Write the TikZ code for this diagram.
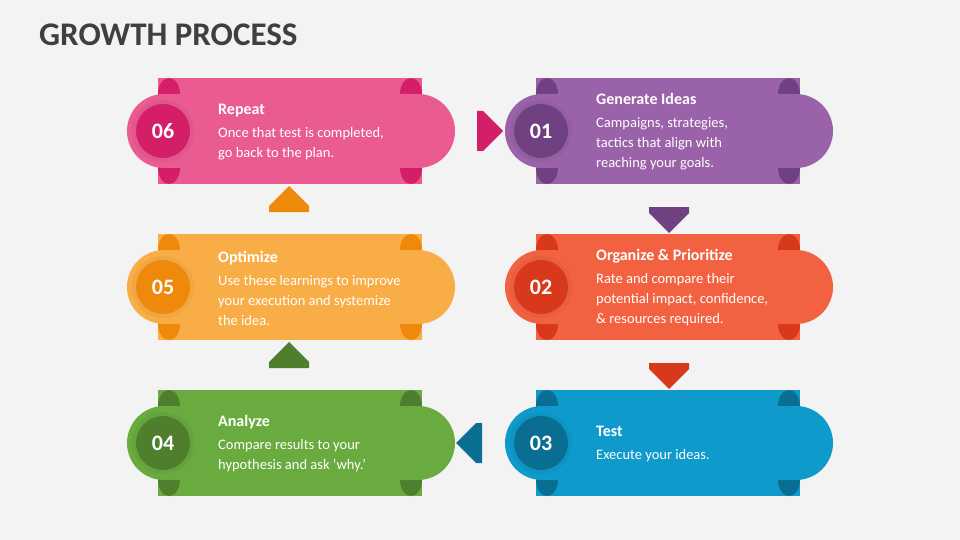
\documentclass[tikz,border=0pt]{standalone}
\usepackage{fontspec}
\setmainfont{Carlito}
\usetikzlibrary{shapes.arrows}
\definecolor{bg}{HTML}{F3F3F3}
\definecolor{pinkL}{HTML}{E95B91}\definecolor{pinkD}{HTML}{D41E67}
\definecolor{purL}{HTML}{9962A9}\definecolor{purD}{HTML}{6F4181}
\definecolor{redL}{HTML}{F26241}\definecolor{redD}{HTML}{D8391B}
\definecolor{bluL}{HTML}{0E9ACB}\definecolor{bluD}{HTML}{0A6E93}
\definecolor{grnL}{HTML}{6AAB3F}\definecolor{grnD}{HTML}{4F7F2D}
\definecolor{orgL}{HTML}{F9AD46}\definecolor{orgD}{HTML}{EE890B}
\definecolor{ttl}{HTML}{3F3F3F}
\tikzset{
 cardtext/.style={anchor=west,align=left,text=white,inner sep=0pt,font=\fontsize{14.5}{20}\selectfont},
 numtext/.style={text=white,font=\bfseries\fontsize{22}{24}\selectfont},
 blockarrow/.style={single arrow,draw=none,minimum height=26pt,minimum width=40pt,single arrow head extend=0pt,single arrow tip angle=90,inner sep=0pt},
}
\newcommand\gcard[7]{% x(left of pill) y(center) light dark num name text
 \begin{scope}[shift={(#1,#2)}]
  \fill[#3] (31,-53) rectangle (295,53);
  \begin{scope}
   \clip (31,-53) rectangle (295,53);
   \foreach \cx in {42,284}{\fill[#4] (\cx,-37) ellipse [x radius=11,y radius=16];
                             \fill[#4] (\cx,37) ellipse [x radius=11,y radius=16];}
  \end{scope}
  \fill[#3,rounded corners=37pt] (0,-37) rectangle (328,37);
  \fill[#3!85!black,opacity=0.25] (36,0) circle (31);
  \fill[#4] (36,0) circle (27);
  \node[numtext] (n#5) at (36,0) {#5};
  \node[cardtext] (t#5) at (91,1) {{\bfseries\fontsize{16}{20}\selectfont #6}\\[3pt]#7};
 \end{scope}}
\begin{document}
\begin{tikzpicture}[x=1pt,y=-1pt]
\fill[bg] (0,0) rectangle (960,540);
\useasboundingbox (0,0) rectangle (960,540);
\node[anchor=west,text=ttl,font=\bfseries\fontsize{33}{36}\selectfont,inner sep=0pt] (title) at (39,35) {GROWTH PROCESS};
\gcard{127}{131}{pinkL}{pinkD}{06}{Repeat}{Once that test is completed,\\go back to the plan.}
\gcard{505}{131}{purL}{purD}{01}{Generate Ideas}{Campaigns, strategies,\\tactics that align with\\reaching your goals.}
\gcard{127}{287}{orgL}{orgD}{05}{Optimize}{Use these learnings to improve\\your execution and systemize\\the idea.}
\gcard{505}{287}{redL}{redD}{02}{Organize \& Prioritize}{Rate and compare their\\potential impact, confidence,\\\& resources required.}
\gcard{127}{443}{grnL}{grnD}{04}{Analyze}{Compare results to your\\hypothesis and ask ‘why.’}
\gcard{505}{443}{bluL}{bluD}{03}{Test}{Execute your ideas.}
\node[blockarrow,fill=pinkD,shape border rotate=0] (a1) at (480,131) {};
\node[blockarrow,fill=purD,shape border rotate=270] (a2) at (669,210) {};
\node[blockarrow,fill=redD,shape border rotate=270] (a3) at (669,366) {};
\node[blockarrow,fill=bluD,shape border rotate=180] (a4) at (479,443) {};
\node[blockarrow,fill=grnD,shape border rotate=90] (a5) at (289,365) {};
\node[blockarrow,fill=orgD,shape border rotate=90] (a6) at (289,209) {};
\end{tikzpicture}
\end{document}
